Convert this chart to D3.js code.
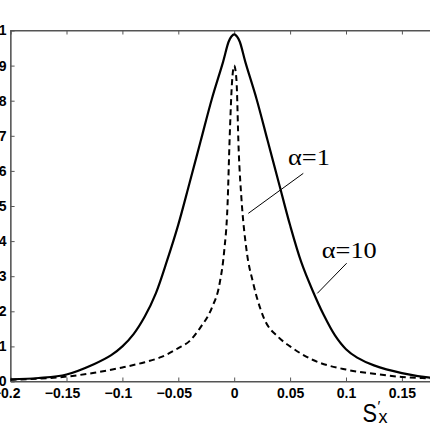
<!DOCTYPE html>
<html>
<head>
<meta charset="utf-8">
<script src="https://cdn.jsdelivr.net/npm/d3@7/dist/d3.min.js"></script>
<style>
  html, body { margin: 0; padding: 0; background: #fff; overflow: hidden; }
  svg { display: block; }
  .tick text { font-family: "Liberation Sans", Arial, sans-serif; font-weight: bold; font-size: 14px; fill: #000; }
</style>
</head>
<body>
<div id="chart"></div>
<script>
// alpha = 10 (solid)
var solidX = [-0.2, -0.175, -0.15, -0.125, -0.11, -0.1, -0.09, -0.08, -0.07, -0.06, -0.05, -0.04, -0.03, -0.02, -0.01, -0.005, -0.0025, 0,
              0.0025, 0.005, 0.01, 0.02, 0.03, 0.04, 0.05, 0.06, 0.07, 0.08, 0.09, 0.1, 0.11, 0.125, 0.15, 0.175, 0.2];
var solidY = [0.006, 0.01, 0.02, 0.05, 0.075, 0.1, 0.135, 0.185, 0.252, 0.345, 0.447, 0.565, 0.685, 0.805, 0.91, 0.968, 0.983, 0.989,
              0.983, 0.968, 0.91, 0.805, 0.685, 0.565, 0.445, 0.34, 0.26, 0.19, 0.132, 0.092, 0.068, 0.046, 0.024, 0.011, 0.006];

// alpha = 1 (dashed)
var dashX = [-0.2, -0.175, -0.15, -0.125, -0.1, -0.08, -0.065, -0.05, -0.04, -0.03, -0.02, -0.013, -0.009, -0.006, -0.004, -0.002, 0,
             0.002, 0.004, 0.0065, 0.011, 0.017, 0.026, 0.04, 0.05, 0.07, 0.1, 0.125, 0.15, 0.175, 0.2];
var dashY = [0.005, 0.008, 0.014, 0.025, 0.04, 0.055, 0.07, 0.095, 0.115, 0.155, 0.21, 0.28, 0.37, 0.5, 0.7, 0.85, 0.9,
             0.86, 0.66, 0.52, 0.375, 0.28, 0.185, 0.125, 0.1, 0.062, 0.034, 0.022, 0.013, 0.009, 0.006];

var xTicks = [-0.2, -0.15, -0.1, -0.05, 0, 0.05, 0.1, 0.15, 0.2];
var xTickLabels = ['\u22120.2', '\u22120.15', '\u22120.1', '\u22120.05', '0', '0.05', '0.1', '0.15', '0.2'];
var yTicks = [0, 0.1, 0.2, 0.3, 0.4, 0.5, 0.6, 0.7, 0.8, 0.9, 1];
var yTickLabels = ['0', '0.1', '0.2', '0.3', '0.4', '0.5', '0.6', '0.7', '0.8', '0.9', '1'];

var width = 430;
var height = 430;

var svg = d3.select('#chart')
  .append('svg')
  .attr('width', width)
  .attr('height', height);

var x = d3.scaleLinear().domain([-0.2, 0.2]).range([10.6, 457.8]);
var y = d3.scaleLinear().domain([0, 1]).range([381.5, 30.5]);

// frame
svg.append('rect')
  .attr('x', x(-0.2))
  .attr('y', y(1))
  .attr('width', x(0.2) - x(-0.2))
  .attr('height', y(0) - y(1))
  .attr('fill', 'none')
  .attr('stroke', '#555')
  .attr('stroke-width', 1);

var xAxis = d3.axisBottom(x)
  .tickValues(xTicks)
  .tickFormat(function (d, i) { return xTickLabels[i]; })
  .tickSizeInner(-4)
  .tickSizeOuter(0)
  .tickPadding(7);

var xTop = d3.axisTop(x)
  .tickValues(xTicks)
  .tickFormat('')
  .tickSizeInner(-4)
  .tickSizeOuter(0);

var yAxis = d3.axisLeft(y)
  .tickValues(yTicks)
  .tickFormat(function (d, i) { return yTickLabels[i]; })
  .tickSizeInner(-4)
  .tickSizeOuter(0)
  .tickPadding(4);

var gx = svg.append('g')
  .attr('transform', 'translate(0,' + y(0) + ')')
  .call(xAxis);

// negative labels sit a little left of their tick, as in the original
gx.selectAll('.tick text')
  .attr('dx', function (d) { return d < 0 ? -4.5 : 0; });

svg.append('g')
  .attr('transform', 'translate(0,' + y(1) + ')')
  .call(xTop);

svg.append('g')
  .attr('transform', 'translate(' + x(-0.2) + ',0)')
  .call(yAxis);

svg.selectAll('.domain').attr('stroke', '#555');
svg.selectAll('.tick line').attr('stroke', '#555');

var line = d3.line()
  .x(function (d) { return x(d[0]); })
  .y(function (d) { return y(d[1]); })
  .curve(d3.curveMonotoneX);

svg.append('path')
  .datum(dashX.map(function (v, i) { return [v, dashY[i]]; }))
  .attr('d', line)
  .attr('fill', 'none')
  .attr('stroke', '#000')
  .attr('stroke-width', 2)
  .attr('stroke-dasharray', '6,4');

svg.append('path')
  .datum(solidX.map(function (v, i) { return [v, solidY[i]]; }))
  .attr('d', d3.line()
    .x(function (d) { return x(d[0]); })
    .y(function (d) { return y(d[1]); })
    .curve(d3.curveCatmullRom.alpha(0.5)))
  .attr('fill', 'none')
  .attr('stroke', '#000')
  .attr('stroke-width', 2.2);

// annotations
var notes = [
  { text: '\u03b1=1', w: 42, tx: 0.0481, ty: 0.617, x1: 0.0618, y1: 0.593, x2: 0.0126, y2: 0.479 },
  { text: '\u03b1=10', w: 55, tx: 0.0783, ty: 0.352, x1: 0.1006, y1: 0.337, x2: 0.0743, y2: 0.251 }
];

notes.forEach(function (n) {
  svg.append('line')
    .attr('x1', x(n.x1)).attr('y1', y(n.y1))
    .attr('x2', x(n.x2)).attr('y2', y(n.y2))
    .attr('stroke', '#000')
    .attr('stroke-width', 1);
  svg.append('text')
    .attr('x', x(n.tx))
    .attr('y', y(n.ty))
    .attr('font-family', '"Liberation Serif", "Times New Roman", serif')
    .attr('font-size', 23)
    .attr('textLength', n.w)
    .attr('lengthAdjust', 'spacingAndGlyphs')
    .text(n.text);
});

// axis label S'x
svg.append('text')
  .attr('x', 362.5)
  .attr('y', 421.5)
  .attr('font-family', '"Liberation Sans", Arial, sans-serif')
  .attr('font-size', 25)
  .attr('textLength', 14.5)
  .attr('lengthAdjust', 'spacingAndGlyphs')
  .text('S');
svg.append('text')
  .attr('x', 377.5)
  .attr('y', 411)
  .attr('font-family', '"Liberation Sans", Arial, sans-serif')
  .attr('font-size', 15)
  .text('\u2032');
svg.append('text')
  .attr('x', 378.5)
  .attr('y', 423)
  .attr('font-family', '"Liberation Sans", Arial, sans-serif')
  .attr('font-size', 18)
  .text('x');
</script>
</body>
</html>
